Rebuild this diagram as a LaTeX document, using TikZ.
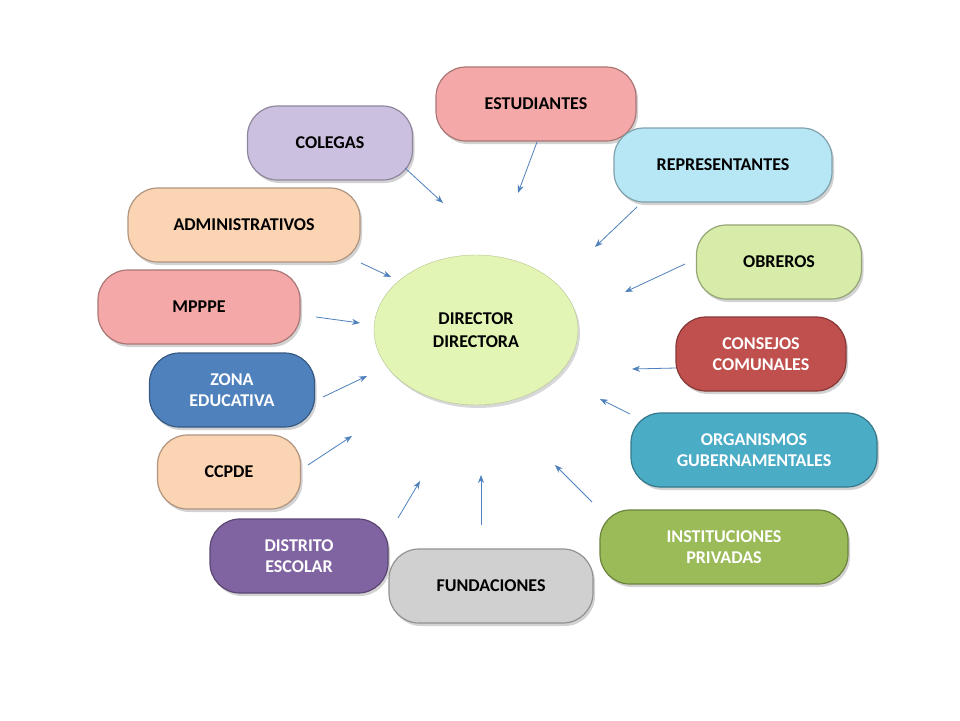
\documentclass[tikz,border=0pt]{standalone}
\usepackage{fontspec}
\setmainfont{Carlito}
\usetikzlibrary{shadows,arrows.meta,shapes.geometric}
\begin{document}
\begin{tikzpicture}[x=1pt,y=-1pt,
 pill/.style={draw=#1!70!black,line width=1.2pt,rounded corners=30pt,minimum height=74pt,inner sep=0pt,align=center,font=\bfseries\fontsize{18}{21}\selectfont,drop shadow={opacity=0.35,shadow xshift=2pt,shadow yshift=-3pt}},
 conn/.style={-{Stealth[length=8pt,width=6pt]},draw=arrowc,line width=0.8pt}]
\definecolor{arrowc}{HTML}{4F81BD}
\definecolor{cpink}{HTML}{F4A9A8}
\definecolor{clav}{HTML}{CCC0E0}
\definecolor{cblue}{HTML}{B7E6F5}
\definecolor{cpeach}{HTML}{FBD4B4}
\definecolor{clgreen}{HTML}{D7ECA8}
\definecolor{cred}{HTML}{C0504D}
\definecolor{cdblue}{HTML}{4F81BD}
\definecolor{cteal}{HTML}{4BACC6}
\definecolor{colive}{HTML}{9BBB59}
\definecolor{cpurp}{HTML}{8064A2}
\definecolor{cgray}{HTML}{D0D0D0}
\definecolor{cdir}{HTML}{E2F5B5}
\fill[white] (0,0) rectangle (960,720);
\useasboundingbox (0,0) rectangle (960,720);
\node[ellipse,draw=cdir!80!black,fill=cdir,minimum width=204pt,minimum height=150pt,align=center,font=\bfseries\fontsize{18}{23}\selectfont,drop shadow={opacity=0.3,shadow xshift=2pt,shadow yshift=-3pt}] (dir) at (476,330) {DIRECTOR\\DIRECTORA};
\node[pill=cpink,fill=cpink,minimum width=200pt] (est) at (536,104) {ESTUDIANTES};
\node[pill=clav,fill=clav,minimum width=165pt] (col) at (330,143) {COLEGAS};
\node[pill=cblue,fill=cblue,minimum width=218pt] (rep) at (723,165) {REPRESENTANTES};
\node[pill=cpeach,fill=cpeach,minimum width=232pt] (adm) at (244,225) {ADMINISTRATIVOS};
\node[pill=clgreen,fill=clgreen,minimum width=165pt] (obr) at (779,262) {OBREROS};
\node[pill=cpink,fill=cpink,minimum width=202pt] (mpp) at (199,307) {MPPPE};
\node[pill=cred,fill=cred,text=white,minimum width=170pt] (con) at (761,354) {CONSEJOS\\COMUNALES};
\node[pill=cdblue,fill=cdblue,text=white,minimum width=165pt] (zon) at (232,390) {ZONA\\EDUCATIVA};
\node[pill=cteal,fill=cteal,text=white,minimum width=246pt] (org) at (754,450) {ORGANISMOS\\GUBERNAMENTALES};
\node[pill=cpeach,fill=cpeach,minimum width=143pt] (ccp) at (229,472) {CCPDE};
\node[pill=colive,fill=colive,text=white,minimum width=248pt] (ins) at (724,547) {INSTITUCIONES\\PRIVADAS};
\node[pill=cpurp,fill=cpurp,text=white,minimum width=178pt] (dis) at (299,556) {DISTRITO\\ESCOLAR};
\node[pill=cgray,fill=cgray,minimum width=204pt] (fun) at (491,586) {FUNDACIONES};
\foreach \n/\ax/\ay/\bx/\by in {col/405/168/443/203, est/537/142/518/193, rep/637/207/595/247, adm/361/263/391/277, obr/685/264/625/292, mpp/316/317/360/323, con/676/368/632/369, zon/323/397/367/376, org/630/414/600/399, ccp/308/465/352/436, ins/592/502/555/465, dis/398/518/420/481, fun/481/525/481/475}{
 \coordinate (\n s) at (\ax,\ay);
 \coordinate (\n e) at (\bx,\by);
 \draw[conn] (\n s) -- (\n e);
}
\end{tikzpicture}
\end{document}
